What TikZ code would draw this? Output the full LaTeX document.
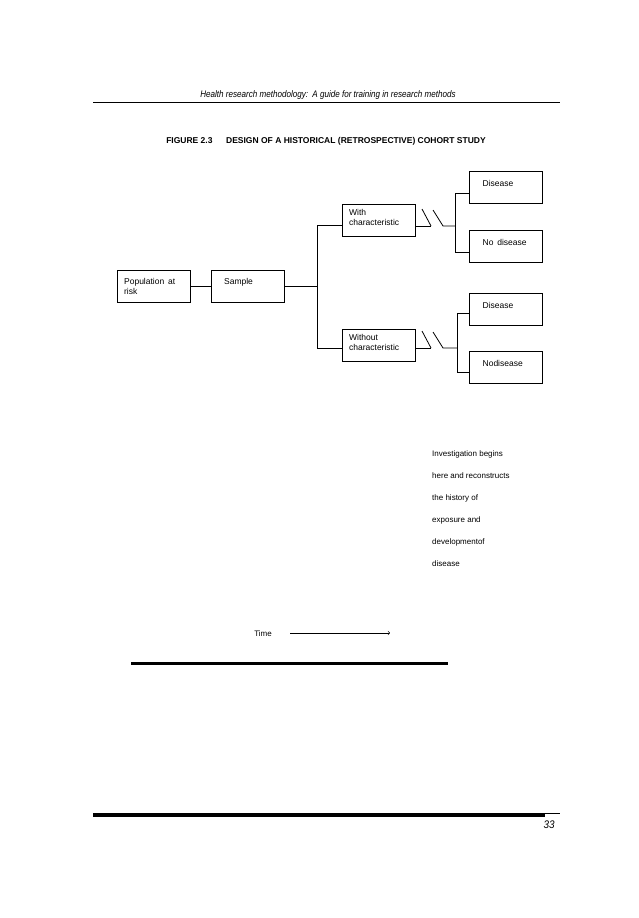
\documentclass[tikz,border=0pt]{standalone}
\usepackage{fontspec}
\setmainfont{Liberation Sans}
\begin{document}
\begin{tikzpicture}[x=1pt,y=-1pt,
  bx/.style={draw,line width=0.8pt,minimum width=73pt,minimum height=32pt,inner sep=0pt},
  ln/.style={line width=0.8pt},
  lbl/.style={font=\fontsize{8.5}{10}\selectfont,align=left,anchor=north west},
  inv/.style={font=\fontsize{8}{10}\selectfont,anchor=west,inner sep=0pt}]
\useasboundingbox (0,0) rectangle (638,918);
% header
\node[font=\fontsize{9.5}{11}\selectfont\itshape,xscale=0.85] (hdr) at (328,95) {Health research methodology:\, A guide for training in research methods};
\draw[ln] (93,102) -- (560,102);
\node[font=\fontsize{8.5}{10}\selectfont\bfseries] (ttl) at (326,141) {FIGURE 2.3\hspace{1.6em}DESIGN OF A HISTORICAL (RETROSPECTIVE) COHORT STUDY};
% boxes
\node[bx] (pop) at (153.5,286) {};
\node[lbl] at (pop.north west) [xshift=4pt,yshift=-5pt] {Population\, at\\risk};
\node[bx] (smp) at (247.5,286) {};
\node[lbl] at (smp.north west) [xshift=10pt,yshift=-5pt] {Sample};
\node[bx] (with) at (378.5,220) {};
\node[lbl] at (with.north west) [xshift=4pt,yshift=-2pt] {With\\characteristic};
\node[bx] (wo) at (378.5,345.5) {};
\node[lbl] at (wo.north west) [xshift=4pt,yshift=-2pt] {Without\\characteristic};
\node[bx] (d1) at (506,187.5) {};
\node[lbl] at (d1.north west) [xshift=10pt,yshift=-6pt] {Disease};
\node[bx] (n1) at (506,246) {};
\node[lbl] at (n1.north west) [xshift=10pt,yshift=-6pt] {No\, disease};
\node[bx] (d2) at (506,309) {};
\node[lbl] at (d2.north west) [xshift=10pt,yshift=-6pt] {Disease};
\node[bx] (n2) at (506,367) {};
\node[lbl] at (n2.north west) [xshift=10pt,yshift=-6pt] {Nodisease};
% connectors
\coordinate (j1) at (317,286);
\draw[ln] (pop.east) -- (smp.west);
\draw[ln] (smp.east) -- (j1);
\draw[ln] (with.west |- 0,225) -| (317,225) |- (wo.west |- 0,348);
% upper branch
\coordinate (s1) at (431,226);
\coordinate (v1) at (455,226);
\draw[ln] (with.east |- 0,226) -- (s1);
\draw[ln] (422,209) -- (s1);
\draw[ln] (433,210) -- (443,226) -- (v1);
\draw[ln] (455,193) -- (455,253);
\draw[ln] (455,193) -- (d1.west |- 0,193);
\draw[ln] (455,252) -- (n1.west |- 0,252);
% lower branch
\coordinate (s2) at (431,348);
\draw[ln] (wo.east |- 0,348) -- (s2);
\draw[ln] (422,331) -- (s2);
\draw[ln] (433,332) -- (443,348) -- (457,348);
\draw[ln] (457,313) -- (457,373);
\draw[ln] (457,313) -- (d2.west |- 0,313);
\draw[ln] (457,372) -- (n2.west |- 0,372);
% investigation text
\node[inv] (i1) at (432,454) {Investigation begins};
\node[inv] (i2) at (432,476) {here and reconstructs};
\node[inv] (i3) at (432,498) {the history of};
\node[inv] (i4) at (432,520) {exposure and};
\node[inv] (i5) at (432,542) {developmentof};
\node[inv] (i6) at (432,564) {disease};
% time
\node[font=\fontsize{8}{10}\selectfont] (time) at (263,634) {Time};
\coordinate (ta) at (290,633);
\coordinate (tb) at (390,633);
\draw[line width=0.6pt,->] (ta) -- (tb);
\draw[line width=3pt] (131,663) -- (448,663);
% footer
\draw[line width=4pt] (93,815) -- (545,815);
\draw[line width=0.5pt] (545,813) -- (560,813);
\node[font=\fontsize{11}{12}\selectfont\itshape,xscale=0.9] (pg) at (549,825) {33};
\end{tikzpicture}
\end{document}
